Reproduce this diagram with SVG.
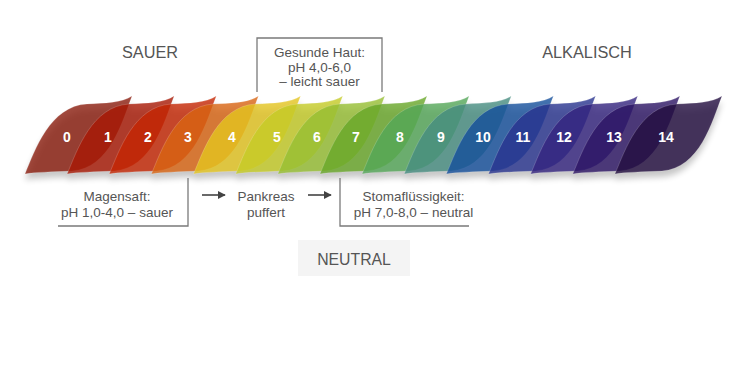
<svg xmlns="http://www.w3.org/2000/svg" xmlns:xlink="http://www.w3.org/1999/xlink" width="750" height="385" viewBox="0 0 750 385">
<style>
.lbl{font-family:"Liberation Sans",Arial,sans-serif;font-size:13.5px;fill:#555;text-anchor:middle}
.big{font-family:"Liberation Sans",Arial,sans-serif;font-size:16.3px;fill:#555;text-anchor:middle}
.num{font-family:"Liberation Sans",Arial,sans-serif;font-size:14px;font-weight:bold;fill:#fff;text-anchor:middle}
.leaf{fill-opacity:0.8;stroke:#fff;stroke-opacity:0.3;stroke-width:0.6}
.bx{fill:none;stroke:#7a7a7a;stroke-width:1.3}
.arr{stroke:#444;stroke-width:1.6;fill:none}
</style>
<defs>
<path id="leaf" d="M25,174 C35,150 50,106 87,104 C105,103 122,103 132,96 C122,122 110,168 72,171 C52,172 35,172 25,174 Z"/>
<filter id="blur" x="-10%" y="-30%" width="120%" height="160%"><feGaussianBlur stdDeviation="3"/></filter>
<marker id="ah" viewBox="0 0 10 10" refX="9" refY="5" markerWidth="8" markerHeight="8" markerUnits="userSpaceOnUse" orient="auto"><path d="M0,0 L10,5 L0,10 Z" fill="#444"/></marker>
</defs>
<rect width="750" height="385" fill="#fff"/>
<text class="big" x="150" y="58">SAUER</text>
<text class="big" x="587" y="58">ALKALISCH</text>
<rect x="298" y="240" width="112" height="36" fill="#f4f4f4"/>
<text class="big" x="354" y="265" style="font-size:15.8px">NEUTRAL</text>
<g id="shadow" opacity="0.22" filter="url(#blur)" fill="#000">
<use xlink:href="#leaf" transform="translate(0,6)"/>
<use xlink:href="#leaf" transform="translate(42.14,6)"/>
<use xlink:href="#leaf" transform="translate(84.28,6)"/>
<use xlink:href="#leaf" transform="translate(126.42,6)"/>
<use xlink:href="#leaf" transform="translate(168.56,6)"/>
<use xlink:href="#leaf" transform="translate(210.7,6)"/>
<use xlink:href="#leaf" transform="translate(252.84,6)"/>
<use xlink:href="#leaf" transform="translate(294.98,6)"/>
<use xlink:href="#leaf" transform="translate(337.12,6)"/>
<use xlink:href="#leaf" transform="translate(379.26,6)"/>
<use xlink:href="#leaf" transform="translate(421.4,6)"/>
<use xlink:href="#leaf" transform="translate(463.54,6)"/>
<use xlink:href="#leaf" transform="translate(505.68,6)"/>
<use xlink:href="#leaf" transform="translate(547.82,6)"/>
<use xlink:href="#leaf" transform="translate(589.96,6)"/>
</g>
<g id="leaves">
<g id="ph0"><use xlink:href="#leaf" class="leaf" fill="rgb(138,28,12)"/></g>
<g id="ph1"><use xlink:href="#leaf" class="leaf" fill="rgb(168,24,4)" transform="translate(42.14,0)"/></g>
<g id="ph2"><use xlink:href="#leaf" class="leaf" fill="rgb(196,37,2)" transform="translate(84.28,0)"/></g>
<g id="ph3"><use xlink:href="#leaf" class="leaf" fill="rgb(216,100,18)" transform="translate(126.42,0)"/></g>
<g id="ph4"><use xlink:href="#leaf" class="leaf" fill="rgb(228,196,31)" transform="translate(168.56,0)"/></g>
<g id="ph5"><use xlink:href="#leaf" class="leaf" fill="rgb(196,202,38)" transform="translate(210.7,0)"/></g>
<g id="ph6"><use xlink:href="#leaf" class="leaf" fill="rgb(150,190,50)" transform="translate(252.84,0)"/></g>
<g id="ph7"><use xlink:href="#leaf" class="leaf" fill="rgb(104,166,40)" transform="translate(294.98,0)"/></g>
<g id="ph8"><use xlink:href="#leaf" class="leaf" fill="rgb(84,166,88)" transform="translate(337.12,0)"/></g>
<g id="ph9"><use xlink:href="#leaf" class="leaf" fill="rgb(70,140,128)" transform="translate(379.26,0)"/></g>
<g id="ph10"><use xlink:href="#leaf" class="leaf" fill="rgb(20,79,155)" transform="translate(421.4,0)"/></g>
<g id="ph11"><use xlink:href="#leaf" class="leaf" fill="rgb(40,51,143)" transform="translate(463.54,0)"/></g>
<g id="ph12"><use xlink:href="#leaf" class="leaf" fill="rgb(51,35,126)" transform="translate(505.68,0)"/></g>
<g id="ph13"><use xlink:href="#leaf" class="leaf" fill="rgb(44,20,100)" transform="translate(547.82,0)"/></g>
<g id="ph14"><use xlink:href="#leaf" class="leaf" fill="rgb(34,12,62)" transform="translate(589.96,0)"/></g>
</g>
<g id="numbers">
<text class="num" x="67" y="142">0</text>
<text class="num" x="108" y="142">1</text>
<text class="num" x="148" y="142">2</text>
<text class="num" x="188" y="142">3</text>
<text class="num" x="232" y="142">4</text>
<text class="num" x="277" y="142">5</text>
<text class="num" x="317" y="142">6</text>
<text class="num" x="356" y="142">7</text>
<text class="num" x="400" y="142">8</text>
<text class="num" x="441" y="142">9</text>
<text class="num" x="483" y="142">10</text>
<text class="num" x="523" y="142">11</text>
<text class="num" x="564" y="142">12</text>
<text class="num" x="614" y="142">13</text>
<text class="num" x="666" y="142">14</text>
</g>
<g id="haut">
<path class="bx" d="M257,92 V38 H382 V92"/>
<text class="lbl" x="319.5" y="57">Gesunde Haut:</text>
<text class="lbl" x="319.5" y="72">pH 4,0-6,0</text>
<text class="lbl" x="319.5" y="86">– leicht sauer</text>
</g>
<g id="magen">
<path class="bx" d="M58,226 H188 V178"/>
<text class="lbl" x="117" y="201">Magensaft:</text>
<text class="lbl" x="117" y="217">pH 1,0-4,0 – sauer</text>
</g>
<g id="pankreas">
<text class="lbl" x="266" y="201">Pankreas</text>
<text class="lbl" x="266" y="217">puffert</text>
</g>
<g id="stoma">
<path class="bx" d="M340,178 V226 H469"/>
<text class="lbl" x="413.5" y="201">Stomaflüssigkeit:</text>
<text class="lbl" x="413.5" y="217">pH 7,0-8,0 – neutral</text>
</g>
<g id="connectors">
<line class="arr" x1="202" y1="195" x2="225" y2="195" marker-end="url(#ah)"/>
<line class="arr" x1="308" y1="195" x2="331" y2="195" marker-end="url(#ah)"/>
</g>
</svg>
